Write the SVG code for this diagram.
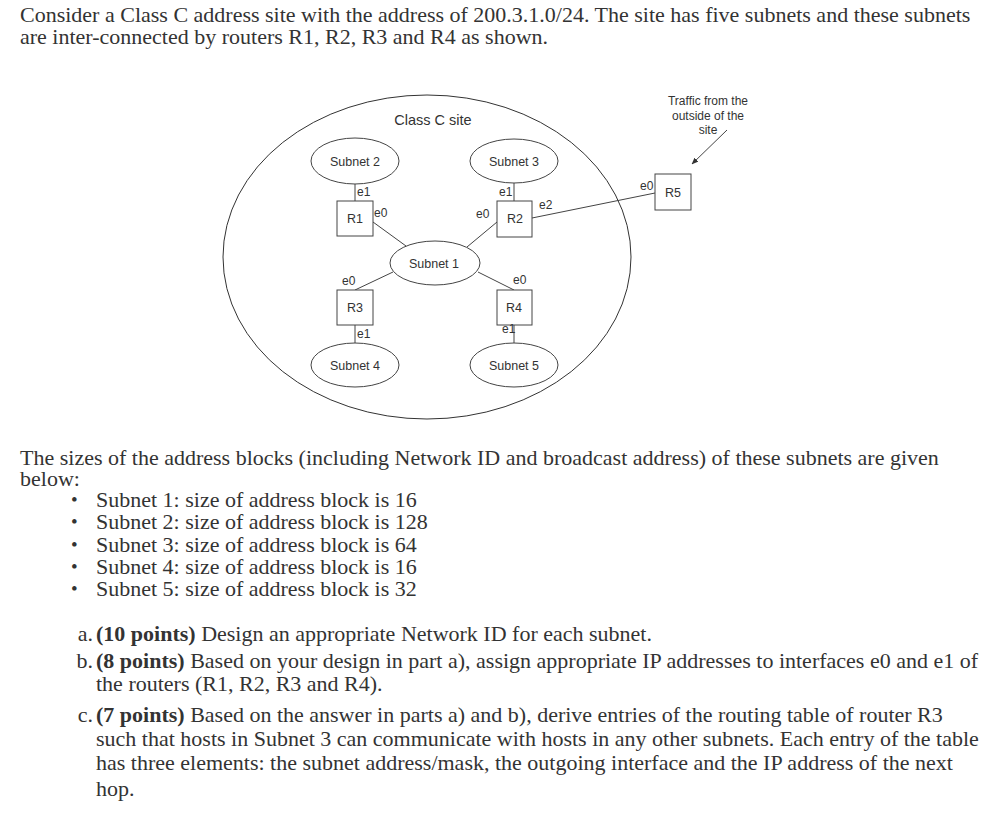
<svg xmlns="http://www.w3.org/2000/svg" width="1004" height="816" viewBox="0 0 1004 816">
<defs>
<style>
.body{font-family:"Liberation Serif","Times New Roman",serif;font-size:22px;fill:#333}
.b{font-weight:bold}
.bul{font-size:19px}
.lab{text-anchor:end}
.d{font-family:"Liberation Sans",Arial,sans-serif;fill:#333}
.lbl{font-size:12.5px;text-anchor:middle}
.sm{font-size:12px}
.shape{fill:#fff;stroke:#444;stroke-width:1}
.conn line{stroke:#444;stroke-width:1}
</style>
<marker id="ah" viewBox="0 0 10 10" refX="9" refY="5" markerWidth="7" markerHeight="7" orient="auto" markerUnits="userSpaceOnUse">
<path d="M0,1 L10,5 L0,9 z" fill="#333"/>
</marker>
</defs>
<rect width="1004" height="816" fill="#fff"/>

<g id="text-top" class="body">
<text x="20" y="22">Consider a Class C address site with the address of 200.3.1.0/24. The site has five subnets and these subnets</text>
<text x="20" y="44">are inter-connected by routers R1, R2, R3 and R4 as shown.</text>
</g>

<g id="site">
<ellipse cx="427" cy="257" rx="204" ry="162" fill="none" stroke="#333" stroke-width="1"/>
<text class="d" x="433" y="125" font-size="14.5" text-anchor="middle">Class C site</text>
</g>

<g id="connectors" class="conn">
<line x1="355" y1="184" x2="355" y2="201"/>
<line x1="373" y1="222" x2="406" y2="246"/>
<line x1="514" y1="183" x2="514" y2="201"/>
<line x1="497" y1="222" x2="467" y2="247"/>
<line x1="532" y1="218" x2="655" y2="193"/>
<line x1="393" y1="272" x2="355" y2="290"/>
<line x1="355" y1="325" x2="355" y2="343"/>
<line x1="478" y1="272" x2="514" y2="290"/>
<line x1="514" y1="325" x2="514" y2="343"/>
<line x1="727" y1="130" x2="692" y2="164" marker-end="url(#ah)"/>
</g>

<g id="subnet2"><ellipse class="shape" cx="355" cy="161" rx="44" ry="23"/><text class="d lbl" x="355" y="165.5">Subnet 2</text></g>
<g id="subnet3"><ellipse class="shape" cx="514" cy="161" rx="44" ry="22"/><text class="d lbl" x="514" y="165.5">Subnet 3</text></g>
<g id="subnet1"><ellipse class="shape" cx="435" cy="263" rx="45" ry="22"/><text class="d lbl" x="434" y="267.5">Subnet 1</text></g>
<g id="subnet4"><ellipse class="shape" cx="355" cy="365" rx="44" ry="22"/><text class="d lbl" x="355" y="369.5">Subnet 4</text></g>
<g id="subnet5"><ellipse class="shape" cx="514" cy="365" rx="44" ry="22"/><text class="d lbl" x="514" y="369.5">Subnet 5</text></g>

<g id="r1"><rect class="shape" x="337" y="201" width="36" height="35"/><text class="d lbl" x="355" y="223">R1</text>
<text class="d sm" x="357" y="196">e1</text><text class="d sm" x="374" y="217">e0</text></g>
<g id="r2"><rect class="shape" x="497" y="201" width="35" height="36"/><text class="d lbl" x="515" y="223">R2</text>
<text class="d sm" x="499" y="196">e1</text><text class="d sm" x="476" y="218">e0</text><text class="d sm" x="539" y="209">e2</text></g>
<g id="r3"><rect class="shape" x="337" y="290" width="36" height="35"/><text class="d lbl" x="355" y="311.5">R3</text>
<text class="d sm" x="342" y="285">e0</text><text class="d sm" x="357" y="338">e1</text></g>
<g id="r4"><rect class="shape" x="497" y="290" width="35" height="35"/><text class="d lbl" x="514" y="311.5">R4</text>
<text class="d sm" x="513" y="284">e0</text><text class="d sm" x="502" y="333">e1</text></g>
<g id="r5"><rect class="shape" x="655" y="174" width="36" height="36"/><text class="d lbl" x="673" y="197">R5</text>
<text class="d sm" x="640" y="190">e0</text></g>

<g id="traffic-note" class="d sm" text-anchor="middle">
<text x="708" y="105">Traffic from the</text>
<text x="708" y="119.5">outside of the</text>
<text x="708" y="134">site</text>
</g>

<g id="text-sizes" class="body">
<text x="20" y="465">The sizes of the address blocks (including Network ID and broadcast address) of these subnets are given</text>
<text x="20" y="486">below:</text>
<text class="bul" x="71" y="506">•</text><text x="96" y="507">Subnet 1: size of address block is 16</text>
<text class="bul" x="71" y="528">•</text><text x="96" y="529">Subnet 2: size of address block is 128</text>
<text class="bul" x="71" y="550.5">•</text><text x="96" y="551.5">Subnet 3: size of address block is 64</text>
<text class="bul" x="71" y="572.5">•</text><text x="96" y="573.5">Subnet 4: size of address block is 16</text>
<text class="bul" x="71" y="595">•</text><text x="96" y="596">Subnet 5: size of address block is 32</text>
</g>

<g id="text-questions" class="body">
<text class="lab" x="93" y="641">a.</text><text x="96" y="641"><tspan class="b">(10 points)</tspan> Design an appropriate Network ID for each subnet.</text>
<text class="lab" x="93" y="668">b.</text><text x="96" y="668"><tspan class="b">(8 points)</tspan> Based on your design in part a), assign appropriate IP addresses to interfaces e0 and e1 of</text>
<text x="96" y="691">the routers (R1, R2, R3 and R4).</text>
<text class="lab" x="93" y="722">c.</text><text x="96" y="722"><tspan class="b">(7 points)</tspan> Based on the answer in parts a) and b), derive entries of the routing table of router R3</text>
<text x="96" y="746">such that hosts in Subnet 3 can communicate with hosts in any other subnets. Each entry of the table</text>
<text x="96" y="770">has three elements: the subnet address/mask, the outgoing interface and the IP address of the next</text>
<text x="96" y="796">hop.</text>
</g>
</svg>
